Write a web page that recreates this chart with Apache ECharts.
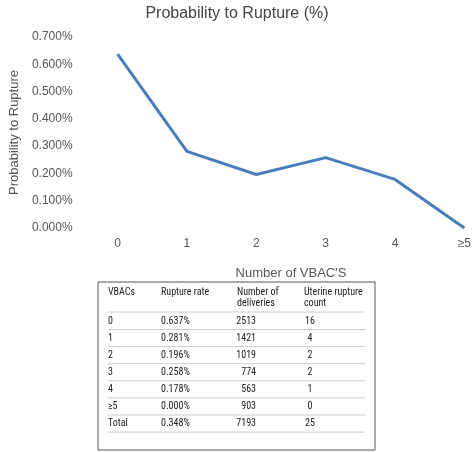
<!DOCTYPE html>
<html><head><meta charset="utf-8">
<script src="https://cdn.jsdelivr.net/npm/echarts@6/dist/echarts.min.js"></script>
<style>html,body{margin:0;padding:0;background:#fff}#c{width:474px;height:452px}</style>
</head><body><div id="c"></div>
<script>
const categories = ['0','1','2','3','4','≥5'];
const rates = [0.637, 0.281, 0.196, 0.258, 0.178, 0.000];
const yTicks = [0, 0.1, 0.2, 0.3, 0.4, 0.5, 0.6, 0.7];
const tableHeader = [['VBACs',''],['Rupture rate',''],['Number of','deliveries'],['Uterine rupture','count']];
const tableVbacs = ['0','1','2','3','4','≥5','Total'];
const tableRates = ['0.637%','0.281%','0.196%','0.258%','0.178%','0.000%','0.348%'];
const tableDeliveries = ['2513','1421','1019','774','563','903','7193'];
const tableCounts = ['16','4','2','2','1','0','25'];

const font = '"Liberation Sans Narrow","Roboto Condensed","DejaVu Sans Condensed",Arial,sans-serif';
const afont = '"Liberation Sans",Arial,sans-serif';
const g = [];
g.push({type:'rect', shape:{x:98,y:282,width:277,height:168}, style:{fill:'#fff',stroke:'#555',lineWidth:1}});
const colX = [108,161,237,304];
tableHeader.forEach((h,i)=>{
  g.push({type:'text', style:{x:colX[i], y:292, text:h[0], font:'10px '+font, fill:'#222', verticalAlign:'middle'}});
  if(h[1]) g.push({type:'text', style:{x:colX[i], y:303, text:h[1], font:'10px '+font, fill:'#222', verticalAlign:'middle'}});
});
g.push({type:'line', shape:{x1:108,y1:312,x2:365,y2:312}, style:{stroke:'#ccc',lineWidth:1}});
tableVbacs.forEach((v,r)=>{
  const y = 321 + r*17.1;
  g.push({type:'text', style:{x:108, y, text:v, font:'10px '+font, fill:'#222', verticalAlign:'middle'}});
  g.push({type:'text', style:{x:161, y, text:tableRates[r], font:'10px '+font, fill:'#222', verticalAlign:'middle'}});
  g.push({type:'text', style:{x:256, y, text:tableDeliveries[r], font:'10px '+font, fill:'#222', verticalAlign:'middle', align:'right'}});
  g.push({type:'text', style:{x:310, y, text:tableCounts[r], font:'10px '+font, fill:'#222', verticalAlign:'middle', align:'center'}});
  g.push({type:'line', shape:{x1:108,y1:y+8.5,x2:365,y2:y+8.5}, style:{stroke:'#ccc',lineWidth:1}});
});

const chart = echarts.init(document.getElementById('c'));
chart.setOption({
  animation:false,
  title:{text:'Probability to Rupture (%)', left:'center', top:1, textStyle:{fontSize:16, fontWeight:'normal', color:'#444', fontFamily:afont}},
  grid:{left:102, right:8, top:37, height:191},
  xAxis:{type:'category', data:categories, boundaryGap:false,
    name:"Number of VBAC'S", nameLocation:'middle', nameGap:39,
    nameTextStyle:{fontSize:13,color:'#555',fontFamily:afont},
    axisLine:{show:false}, axisTick:{show:false},
    axisLabel:{color:'#555', fontSize:12, margin:10, fontFamily:afont}},
  yAxis:{type:'value', min:0, max:0.7, interval:0.1,
    name:'Probability to Rupture', nameLocation:'middle', nameGap:85,
    nameTextStyle:{fontSize:13,color:'#555',fontFamily:afont},
    splitLine:{show:false}, axisLine:{show:false}, axisTick:{show:false},
    axisLabel:{color:'#555', fontSize:12, margin:45, fontFamily:afont, formatter:v=>v.toFixed(3)+'%'}},
  series:[{type:'line', data:rates, symbol:'none', lineStyle:{color:'#4a7ebb', width:3}}],
  graphic:g
});
</script></body></html>
